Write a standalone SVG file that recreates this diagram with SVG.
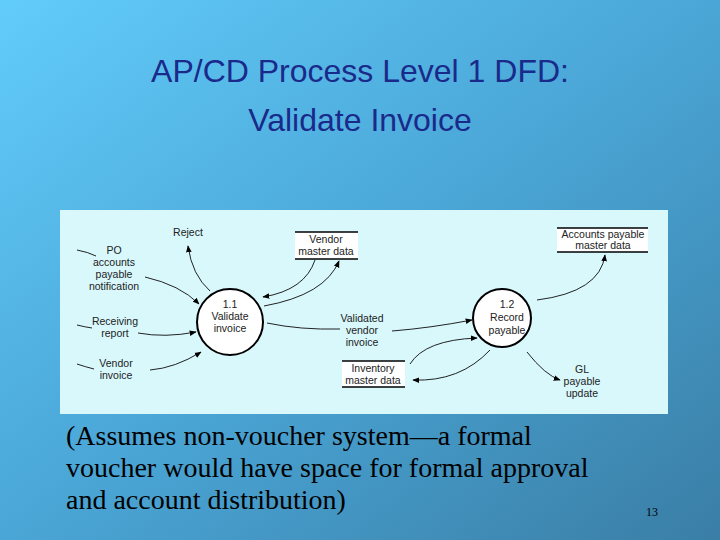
<svg xmlns="http://www.w3.org/2000/svg" width="720" height="540" viewBox="0 0 720 540">
<defs>
<linearGradient id="bg" x1="0" y1="0" x2="1" y2="1"><stop offset="0" stop-color="#62ccfa"/><stop offset="0.5" stop-color="#4aa6d6"/><stop offset="1" stop-color="#3a7ea6"/></linearGradient>
<marker id="ah" viewBox="0 0 10 10" refX="9" refY="5" markerWidth="7" markerHeight="7" orient="auto"><path d="M0,1 L10,5 L0,9 z" fill="#000"/></marker>
</defs>
<style>
.t{font-family:"Liberation Sans",Arial,sans-serif;fill:#222;font-size:10.5px;text-anchor:middle}
.c{fill:none;stroke:#222;stroke-width:1;marker-end:url(#ah)}
.l{fill:none;stroke:#222;stroke-width:1}
.n{fill:#fff;stroke:#000;stroke-width:2}
.s{stroke:#000;stroke-width:1.5}
.b{font-family:"Liberation Serif","Times New Roman",serif;font-size:28px;fill:#000}
</style>
<rect width="720" height="540" fill="url(#bg)"/>
<text x="360" y="82" font-family="Liberation Sans,Arial,sans-serif" font-size="32" fill="#1a2a8a" text-anchor="middle">AP/CD Process Level 1 DFD:</text>
<text x="360" y="131" font-family="Liberation Sans,Arial,sans-serif" font-size="32" fill="#1a2a8a" text-anchor="middle">Validate Invoice</text>
<rect x="60" y="210" width="608" height="204" fill="#d8f8fc"/>
<g id="p11"><circle cx="230" cy="322" r="33" class="n"/><text class="t" x="230" y="308">1.1</text><text class="t" x="230" y="320">Validate</text><text class="t" x="230" y="332">invoice</text></g>
<g id="p12"><circle cx="502" cy="318" r="29" class="n"/><text class="t" x="507" y="308">1.2</text><text class="t" x="507" y="321">Record</text><text class="t" x="507" y="334">payable</text></g>
<g id="vmd"><rect x="295" y="232" width="63" height="27" fill="#fff"/><line x1="295" y1="232" x2="358" y2="232" class="s"/><line x1="295" y1="259" x2="358" y2="259" class="s"/><text class="t" x="326" y="243">Vendor</text><text class="t" x="326" y="255">master data</text></g>
<g id="apmd"><rect x="557" y="228" width="91" height="24" fill="#fff"/><line x1="557" y1="228" x2="648" y2="228" class="s"/><line x1="557" y1="252" x2="648" y2="252" class="s"/><text class="t" x="603" y="238">Accounts payable</text><text class="t" x="603" y="249">master data</text></g>
<g id="imd"><rect x="342" y="361" width="63" height="26" fill="#fff"/><line x1="342" y1="361" x2="405" y2="361" class="s"/><line x1="342" y1="387" x2="405" y2="387" class="s"/><text class="t" x="373" y="372">Inventory</text><text class="t" x="373" y="384">master data</text></g>
<g id="labels">
<text class="t" x="188" y="236">Reject</text>
<text class="t" x="114" y="254">PO</text><text class="t" x="114" y="266">accounts</text><text class="t" x="114" y="278">payable</text><text class="t" x="114" y="290">notification</text>
<text class="t" x="115" y="325">Receiving</text><text class="t" x="115" y="337">report</text>
<text class="t" x="116" y="367">Vendor</text><text class="t" x="116" y="379">invoice</text>
<text class="t" x="362" y="322">Validated</text><text class="t" x="362" y="334">vendor</text><text class="t" x="362" y="346">invoice</text>
<text class="t" x="582" y="373">GL</text><text class="t" x="582" y="385">payable</text><text class="t" x="582" y="397">update</text>
</g>
<g id="connectors">
<path class="l" d="M77,250 Q88,252 96,256"/>
<path class="c" d="M145,277 Q180,285 199,304"/>
<path class="l" d="M77,325 Q85,327 92,328"/>
<path class="c" d="M138,333 Q165,338 196,332"/>
<path class="l" d="M77,364 Q86,367 94,369"/>
<path class="c" d="M150,370 Q175,368 201,352"/>
<path class="c" d="M210,291 Q192,275 188,246"/>
<path class="c" d="M315,260 Q305,290 263,297"/>
<path class="c" d="M264,306 Q325,295 339,261"/>
<path class="l" d="M267,323 Q300,330 340,329"/>
<path class="c" d="M392,331 Q430,328 472,320"/>
<path class="c" d="M410,364 Q425,340 477,338"/>
<path class="c" d="M490,350 Q460,382 413,380"/>
<path class="c" d="M537,300 Q600,292 605,255"/>
<path class="c" d="M527,352 Q545,375 560,380"/>
</g>
<text x="66" y="445" class="b">(Assumes non-voucher system—a formal</text>
<text x="66" y="477" class="b">voucher would have space for formal approval</text>
<text x="66" y="509" class="b">and account distribution)</text>
<text x="652" y="516" font-family="Liberation Serif,Times New Roman,serif" font-size="12" fill="#000" text-anchor="middle">13</text>
</svg>
